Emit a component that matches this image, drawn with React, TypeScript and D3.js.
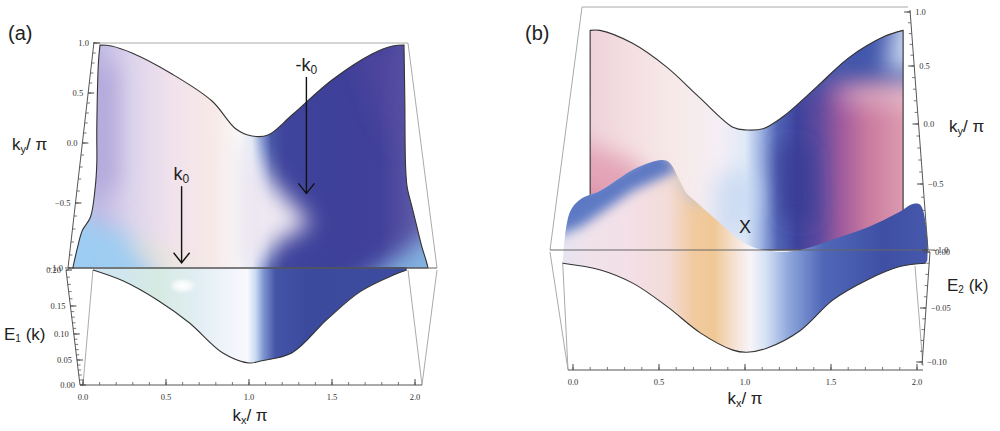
import React from 'react';
import * as d3 from 'd3';

// axis ticks
const kxTicks = [0, 0.5, 1, 1.5, 2];
const kyTicks = [1, 0.5, 0, -0.5, -1];
const e1Ticks = [0.2, 0.15, 0.1, 0.05, 0];
const e2Ticks = [0, -0.05, -0.1];

// ---- panel (a): E1(k)
// far edge of the surface: ky/pi height seen at each kx/pi
const backKxA = [0.05, 0.12, 0.25, 0.5, 0.75, 0.9, 1.0, 1.1, 1.25, 1.5, 1.75, 1.88, 1.95];
const backKyA = [0.98, 0.97, 0.9, 0.69, 0.42, 0.14, 0.07, 0.08, 0.28, 0.63, 0.89, 0.97, 0.98];
// side edges: kx/pi drift along ky/pi
const leftKyA = [0.98, 0.8, 0.13, -0.17, -0.37, -0.61, -0.71, -0.84, -1.0];
const leftKxA = [0.05, 0.04, 0.03, 0.03, 0.02, -0.01, -0.06, -0.09, -0.12];
const rightKyA = [0.98, 0.43, -0.2, -0.37, -0.53, -0.68, -0.83, -0.95, -1.0];
const rightKxA = [1.95, 1.955, 1.96, 1.97, 2.0, 2.03, 2.06, 2.09, 2.1];
// near edge: E1 at each kx/pi
const frontKxA = [0.06, 0.24, 0.45, 0.64, 0.84, 1.0, 1.07, 1.26, 1.47, 1.67, 1.87, 1.95];
const frontE1 = [0.2, 0.185, 0.158, 0.12, 0.064, 0.044, 0.048, 0.064, 0.126, 0.17, 0.193, 0.2];
// shading along kx/pi
const shadeKxA = [-0.12, 0.05, 0.25, 0.5, 0.75, 0.92, 1.0, 1.06, 1.12, 1.2, 1.5, 1.8, 1.95, 2.1];
const shadeColA = ['#b4c8ea', '#c2bbe4', '#ddd4ec', '#f1e2ec', '#f6e9e6', '#fbf7f7', '#dfeaf6',
  '#8397d2', '#4755a6', '#3f449c', '#3e4099', '#41409a', '#5450a2', '#6a66ae'];
const shadeKxLA = [0.0, 0.2, 0.45, 0.7, 0.9, 0.99, 1.04, 1.09, 1.16, 1.35, 2.0];
const shadeColLA = ['#cfe6f4', '#d0e6f0', '#d6eae2', '#e2eef4', '#f2f5fb', '#f8f9fd', '#c8daf2',
  '#7c92cf', '#4454a6', '#3c4a9e', '#3e4ca0'];
// soft colour patches (kx/pi, ky/pi corners)
const patchesA = [
  { kx: [0.0, 0.16, 0.16, 0.0], ky: [0.8, 0.75, -0.35, -0.45], color: '#aa9ed6', op: 0.7 },
  { kx: [-0.4, 0.2, 0.5, -0.4], ky: [-0.5, -0.72, -1.25, -1.25], color: '#9ccef2', op: 0.95 },
  { kx: [0.2, 0.32, 0.62, 0.5], ky: [-0.78, -0.8, -1.02, -1.02], color: '#d8ecb8', op: 0.75 },
  { kx: [0.98, 1.12, 1.37, 1.16, 1.04, 0.9, 0.9], ky: [0.0, -0.32, -0.66, -0.8, -1.0, -1.0, 0.0], color: '#eee8f2', op: 1 },
  { kx: [1.5, 2.4, 2.4], ky: [-1.25, -0.5, -1.25], color: '#86bae6', op: 0.9 },
  { kx: [1.65, 1.95, 1.95, 1.8], ky: [0.95, 0.95, -0.1, 0.2], color: '#5a4ca2', op: 0.5 },
];
// arrows: [kx/pi, ky/pi top, ky/pi tip]
const arrowK0 = [0.56, -0.36, -0.96];
const arrowMinusK0 = [1.34, 0.66, -0.42];

// ---- panel (b): E2(k)
const backKxB = [0.05, 0.11, 0.31, 0.52, 0.72, 0.93, 1.01, 1.11, 1.23, 1.44, 1.64, 1.85, 1.97];
const backKyB = [0.83, 0.83, 0.71, 0.49, 0.23, -0.03, -0.05, -0.04, 0.06, 0.32, 0.58, 0.77, 0.83];
// raised near part of the surface (ridge line), ky/pi height at each kx/pi
const ridgeKxB = [-0.06, -0.02, 0.04, 0.16, 0.35, 0.45, 0.52, 0.56, 0.62, 0.66, 0.72, 0.85, 1.0,
  1.16, 1.32, 1.51, 1.71, 1.9, 1.98, 2.02, 2.06, 2.06];
const ridgeKyB = [-1.1, -0.72, -0.62, -0.55, -0.38, -0.32, -0.3, -0.32, -0.47, -0.57, -0.64, -0.79, -0.95,
  -1.01, -1.0, -0.92, -0.83, -0.71, -0.65, -0.66, -0.91, -1.08];
// near edge: E2 at each kx/pi
const frontKxB = [-0.06, 0.16, 0.35, 0.55, 0.74, 0.93, 1.01, 1.13, 1.32, 1.51, 1.71, 1.9, 2.05];
const frontE2 = [-0.01, -0.016, -0.028, -0.049, -0.073, -0.089, -0.091, -0.087, -0.071, -0.043, -0.025, -0.013, -0.01];
const shadeKxB = [0.05, 0.3, 0.6, 0.85, 1.0, 1.1, 1.2, 1.32, 1.45, 1.6, 1.75, 1.97];
const shadeColB = ['#efd2da', '#f4dfe2', '#f7ebea', '#f4eef5', '#e0eaf7', '#9db3e2', '#5265b5',
  '#3e429c', '#5e4a9e', '#a25c9d', '#c97a9f', '#dc9ab0'];
const shadeKxFB = [-0.06, 0.1, 0.3, 0.55, 0.7, 0.82, 0.95, 1.03, 1.12, 1.25, 1.45, 1.8, 2.06];
const shadeColFB = ['#e6e4f0', '#f0e2ea', '#f3e0e8', '#f3dcd8', '#f1caa0', '#f0c896', '#f6e4d8',
  '#f8f4f8', '#d6e2f4', '#90a8dc', '#5068b8', '#3f50a4', '#4658ac'];
const patchesB = [
  { kx: [1.28, 1.48, 2.3, 2.3, 1.28], ky: [0.2, 0.36, 0.36, 1.4, 1.4], color: '#4256ac', op: 1 },
  { kx: [1.86, 2.3, 2.3, 1.96], ky: [0.45, 0.45, 1.4, 1.4], color: '#d6e4f6', op: 0.9 },
  { kx: [1.55, 2.3, 2.3, 1.6], ky: [0.3, 0.3, 0.15, 0.2], color: '#f4e4ec', op: 0.6 },
  { kx: [-0.4, 0.3, 0.55, 0.7, -0.4], ky: [0.05, -0.3, -0.6, -1.3, -1.3], color: '#e2a0b4', op: 0.9 },
  { kx: [-0.4, 0.15, 0.35, -0.4], ky: [-0.45, -0.6, -1.3, -1.3], color: '#d87c9a', op: 0.8 },
  { kx: [1.2, 1.4, 1.42, 1.22], ky: [-0.15, -0.2, -0.8, -0.75], color: '#393b94', op: 0.8 },
  { kx: [0.82, 1.0, 1.1, 0.95, 0.8], ky: [-0.45, -0.35, -0.6, -0.95, -0.9], color: '#c0d6f2', op: 0.7 },
];
const patchesFB = [
  { kx: [-0.3, 0.1, 0.5, 0.62, 0.35, 0.05, -0.3], ky: [-0.5, -0.52, -0.2, -0.38, -0.55, -0.82, -1.0], color: '#5574c2', op: 0.95 },
  { kx: [0.58, 0.72, 0.74, 0.64], ky: [-0.4, -0.58, -0.7, -0.55], color: '#a8c2e8', op: 0.8 },
];

// scales
const xBackA = d3.scaleLinear().domain([0, 2]).range([92, 412]);
const yKyA = d3.scaleLinear().domain([-1, -0.5, 0, 0.5, 1]).range([268, 203, 143, 93, 43]);
const xFrontA = d3.scaleLinear().domain([0, 2]).range([83, 415]);
const yE1 = d3.scaleLinear().domain([0, 0.05, 0.1, 0.15, 0.2]).range([385, 360, 334, 306, 270]);

const xBackB = d3.scaleLinear().domain([0, 2]).range([582, 908]);
const yKyB = d3.scaleLinear().domain([-1, -0.5, 0, 0.5, 1]).range([250, 184, 124, 66, 12]);
const xFrontB = d3.scaleLinear().domain([0, 2]).range([573, 917]);
const yE2 = d3.scaleLinear().domain([-0.1, -0.05, 0]).range([362, 308, 252]);

type Pt = [number, number];
type Lin = (v: number) => number;
interface Patch { kx: number[]; ky: number[]; color: string; op: number; }
const curve = d3.line<Pt>().curve(d3.curveCatmullRom.alpha(0.5));
const pts = (xs: number[], ys: number[], fx: Lin, fy: Lin): Pt[] => xs.map((v, i) => [fx(v), fy(ys[i])]);
const joinPath = (...segs: Pt[][]) =>
  segs.map((s, i) => { const d = curve(s) || ''; return i === 0 ? d : 'L' + d.slice(1); }).join('') + 'Z';
const rev = (p: Pt[]) => p.slice().reverse();

const tickFont = { fontFamily: 'Liberation Serif, serif', fontSize: 8.5, fill: '#333' };
const labFont = { fontFamily: 'Liberation Sans, Arial, sans-serif', fill: '#222' };

interface VAxisProps {
  scale: Lin; top: Pt; bottom: Pt; major: number[]; minor: number[];
  dir: number; labelSide: number; fmt: (v: number) => string;
}
const VAxis = ({ scale, top, bottom, major, minor, dir, labelSide, fmt }: VAxisProps) => {
  const xAt = d3.scaleLinear().domain([top[1], bottom[1]]).range([top[0], bottom[0]]);
  return (
    <g>
      <line x1={top[0]} y1={top[1]} x2={bottom[0]} y2={bottom[1]} stroke="#555" strokeWidth={1} />
      {minor.map((v, i) => {
        const y = scale(v), x = xAt(y);
        return <line key={'m' + i} x1={x} y1={y} x2={x + dir * 3} y2={y} stroke="#555" strokeWidth={0.8} />;
      })}
      {major.map((v, i) => {
        const y = scale(v), x = xAt(y);
        return (
          <g key={'M' + i}>
            <line x1={x} y1={y} x2={x + dir * 6} y2={y} stroke="#444" strokeWidth={1} />
            <text x={x + labelSide * 5} y={y + 3} textAnchor={labelSide < 0 ? 'end' : 'start'} {...tickFont}>{fmt(v)}</text>
          </g>
        );
      })}
    </g>
  );
};

interface HAxisProps { scale: Lin; y: number; x0: number; x1: number; major: number[]; minor: number[]; }
const HAxis = ({ scale, y, x0, x1, major, minor }: HAxisProps) => (
  <g>
    <line x1={x0} y1={y} x2={x1} y2={y} stroke="#555" strokeWidth={1} />
    {minor.map((v, i) => (
      <line key={'m' + i} x1={scale(v)} y1={y} x2={scale(v)} y2={y - 3} stroke="#555" strokeWidth={0.8} />
    ))}
    {major.map((v, i) => (
      <g key={'M' + i}>
        <line x1={scale(v)} y1={y} x2={scale(v)} y2={y - 6} stroke="#444" strokeWidth={1} />
        <text x={scale(v)} y={y + 15} textAnchor="middle" {...tickFont}>{d3.format('.1f')(v)}</text>
      </g>
    ))}
  </g>
);

// blurred colour patches, clipped to a surface
const Patches = ({ list, sx, sy, clip, blur }: { list: Patch[]; sx: Lin; sy: Lin; clip: string; blur: string }) => (
  <g clipPath={`url(#${clip})`}>
    {list.map((p, i) => (
      <polygon key={i} points={p.kx.map((k, j) => `${sx(k)},${sy(p.ky[j])}`).join(' ')}
        fill={p.color} fillOpacity={p.op} filter={`url(#${blur})`} />
    ))}
  </g>
);

const Shade = ({ id, ks, cols, sx }: { id: string; ks: number[]; cols: string[]; sx: Lin }) => {
  const x0 = sx(ks[0]), x1 = sx(ks[ks.length - 1]);
  return (
    <linearGradient id={id} gradientUnits="userSpaceOnUse" x1={x0} x2={x1} y1={0} y2={0}>
      {ks.map((k, i) => <stop key={i} offset={(sx(k) - x0) / (x1 - x0)} stopColor={cols[i]} />)}
    </linearGradient>
  );
};

const Arrow = ({ x, y0, y1 }: { x: number; y0: number; y1: number }) => (
  <g stroke="#111" strokeWidth={1.4} fill="none">
    <line x1={x} y1={y0} x2={x} y2={y1} />
    <polyline points={`${x - 8},${y1 - 10} ${x},${y1} ${x + 8},${y1 - 10}`} />
  </g>
);

const f1 = d3.format('.1f');
const f2 = d3.format('.2f');

const App = () => {
  // panel (a) outlines
  const topA = pts(backKxA, backKyA, xBackA, yKyA);
  const rightA = pts(rightKxA, rightKyA, xBackA, yKyA);
  const leftA = pts(leftKxA, leftKyA, xBackA, yKyA);
  const upperA = joinPath(topA, rightA, rev(leftA));
  const lowA = pts(frontKxA, frontE1, xFrontA, yE1);
  const lowerA = joinPath(rev(lowA), [[xFrontA(frontKxA[0]), yKyA(-1) - 1], [xFrontA(frontKxA[frontKxA.length - 1]), yKyA(-1) - 1]]);

  // panel (b) outlines
  const topB = pts(backKxB, backKyB, xBackB, yKyB);
  const backB = joinPath(topB, [[xBackB(backKxB[backKxB.length - 1]), yKyB(-1)], [xBackB(backKxB[0]), yKyB(-1)]]);
  const ridgeB = pts(ridgeKxB, ridgeKyB, xFrontB, yKyB);
  const lowB = pts(frontKxB, frontE2, xFrontB, yE2);
  const frontB = joinPath(ridgeB, rev(lowB));

  const minorKy = d3.range(-10, 11).map(v => v / 10);
  const minorE1 = d3.range(0, 21).map(v => v / 100);
  const minorE2 = d3.range(-10, 1).map(v => v / 100);
  const minorKx = d3.range(0, 21).map(v => v / 10);

  return (
    <svg width={1000} height={431} style={{ position: 'absolute', left: 0, top: 0, background: '#fff' }}>
      <defs>
        <Shade id="shadeA" ks={shadeKxA} cols={shadeColA} sx={xBackA} />
        <Shade id="shadeLA" ks={shadeKxLA} cols={shadeColLA} sx={xFrontA} />
        <Shade id="shadeB" ks={shadeKxB} cols={shadeColB} sx={xBackB} />
        <Shade id="shadeFB" ks={shadeKxFB} cols={shadeColFB} sx={xFrontB} />
        <clipPath id="clipA"><path d={upperA} /></clipPath>
        <clipPath id="clipB"><path d={backB} /></clipPath>
        <clipPath id="clipFB"><path d={frontB} /></clipPath>
        <filter id="soft" filterUnits="userSpaceOnUse" x={0} y={0} width={1000} height={431}>
          <feGaussianBlur stdDeviation={11} />
        </filter>
        <filter id="softS" filterUnits="userSpaceOnUse" x={0} y={0} width={1000} height={431}>
          <feGaussianBlur stdDeviation={6} />
        </filter>
        <radialGradient id="spot">
          <stop offset={0} stopColor="#fff" stopOpacity={1} />
          <stop offset={0.5} stopColor="#fff" stopOpacity={0.7} />
          <stop offset={1} stopColor="#fff" stopOpacity={0} />
        </radialGradient>
      </defs>

      {/* ---------- (a) ---------- */}
      <text x={8} y={40} fontSize={20} {...labFont}>(a)</text>
      <g stroke="#aaa" strokeWidth={1} fill="none">
        <line x1={93} y1={43} x2={408} y2={43} />
        <line x1={408} y1={43} x2={437} y2={268} />
        <line x1={xFrontA(frontKxA[0])} y1={270} x2={xFrontA(0)} y2={385} />
        <line x1={408} y1={270} x2={422} y2={385} />
        <line x1={437} y1={270} x2={422} y2={385} />
      </g>
      <path d={upperA} fill="url(#shadeA)" />
      <Patches list={patchesA} sx={xBackA} sy={yKyA} clip="clipA" blur="soft" />
      <path d={lowerA} fill="url(#shadeLA)" />
      <ellipse cx={xFrontA(0.6)} cy={yE1(0.178)} rx={14} ry={8} fill="url(#spot)" />
      <path d={upperA} fill="none" stroke="#333" strokeWidth={1.1} />
      <path d={curve(lowA) || ''} fill="none" stroke="#333" strokeWidth={1.1} />
      <line x1={65} y1={yKyA(-1)} x2={437} y2={yKyA(-1)} stroke="#666" strokeWidth={1.2} />

      <VAxis scale={yKyA} top={[94, 42]} bottom={[68, 268]} major={kyTicks} minor={minorKy}
        dir={1} labelSide={-1} fmt={f1} />
      <VAxis scale={yE1} top={[66, 270]} bottom={[80, 385]} major={e1Ticks} minor={minorE1}
        dir={1} labelSide={-1} fmt={f2} />
      <HAxis scale={xFrontA} y={385} x0={80} x1={422} major={kxTicks} minor={minorKx} />

      <text x={12} y={150} fontSize={17} {...labFont}>k<tspan fontSize={11} dy={3}>y</tspan><tspan dy={-3}>/ π</tspan></text>
      <text x={4} y={340} fontSize={17} {...labFont}>E<tspan fontSize={10} dy={2}>1</tspan><tspan dy={-2}> (k)</tspan></text>
      <text x={250} y={421} fontSize={17} textAnchor="middle" {...labFont}>k<tspan fontSize={11} dy={3}>x</tspan><tspan dy={-3}>/ π</tspan></text>

      <Arrow x={xBackA(arrowK0[0])} y0={yKyA(arrowK0[1])} y1={yKyA(arrowK0[2])} />
      <text x={xBackA(arrowK0[0]) - 8} y={yKyA(arrowK0[1]) - 6} fontSize={18} {...labFont}>k<tspan fontSize={12} dy={3}>0</tspan></text>
      <Arrow x={xBackA(arrowMinusK0[0])} y0={yKyA(arrowMinusK0[1])} y1={yKyA(arrowMinusK0[2])} />
      <text x={xBackA(arrowMinusK0[0]) - 11} y={yKyA(arrowMinusK0[1]) - 6} fontSize={18} {...labFont}>-k<tspan fontSize={12} dy={3}>0</tspan></text>

      {/* ---------- (b) ---------- */}
      <text x={525} y={40} fontSize={20} {...labFont}>(b)</text>
      <g stroke="#aaa" strokeWidth={1} fill="none">
        <line x1={582} y1={7} x2={908} y2={7} />
        <line x1={582} y1={7} x2={550} y2={250} />
        <line x1={550} y1={252} x2={568} y2={370} />
        <line x1={xFrontB(frontKxB[0])} y1={262} x2={568} y2={370} />
        <line x1={915} y1={266} x2={923} y2={366} />
      </g>
      <path d={backB} fill="url(#shadeB)" />
      <Patches list={patchesB} sx={xBackB} sy={yKyB} clip="clipB" blur="soft" />
      <path d={backB} fill="none" stroke="#333" strokeWidth={1.1} />
      <path d={frontB} fill="url(#shadeFB)" />
      <Patches list={patchesFB} sx={xFrontB} sy={yKyB} clip="clipFB" blur="softS" />
      <path d={curve(lowB) || ''} fill="none" stroke="#333" strokeWidth={1.1} />
      <line x1={550} y1={yKyB(-1)} x2={935} y2={yKyB(-1)} stroke="#666" strokeWidth={1.2} />
      <text x={xFrontB(1.0)} y={233} fontSize={18} textAnchor="middle" {...labFont}>X</text>

      <VAxis scale={yKyB} top={[910, 10]} bottom={[928, 250]} major={kyTicks} minor={minorKy}
        dir={-1} labelSide={1} fmt={f1} />
      <VAxis scale={yE2} top={[930, 252]} bottom={[922, 365]} major={e2Ticks} minor={minorE2}
        dir={-1} labelSide={1} fmt={f2} />
      <HAxis scale={xFrontB} y={370} x0={568} x1={923} major={kxTicks} minor={minorKx} />

      <text x={949} y={132} fontSize={17} {...labFont}>k<tspan fontSize={11} dy={3}>y</tspan><tspan dy={-3}>/ π</tspan></text>
      <text x={947} y={291} fontSize={17} {...labFont}>E<tspan fontSize={10} dy={2}>2</tspan><tspan dy={-2}> (k)</tspan></text>
      <text x={745} y={404} fontSize={17} textAnchor="middle" {...labFont}>k<tspan fontSize={11} dy={3}>x</tspan><tspan dy={-3}>/ π</tspan></text>
    </svg>
  );
};

export default App;
